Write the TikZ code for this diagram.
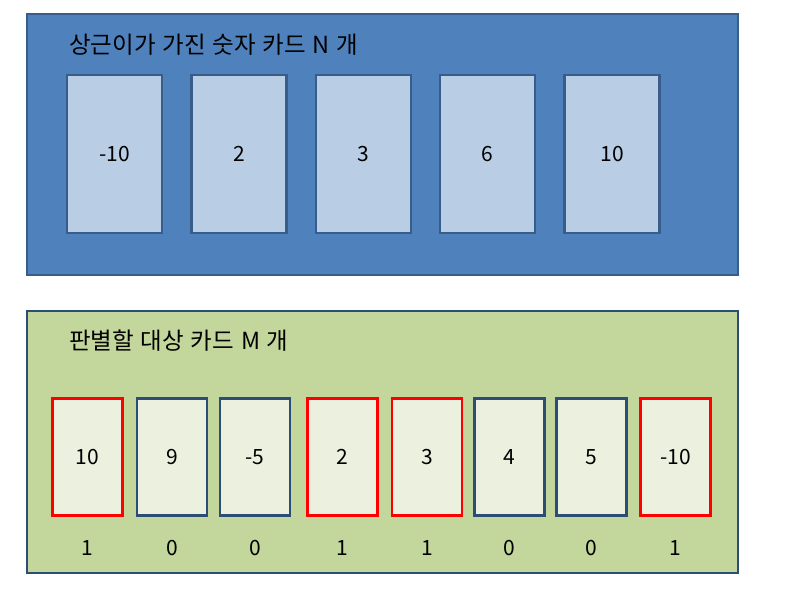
\documentclass[tikz,border=0pt]{standalone}
\usepackage{fontspec}
\setmainfont{Noto Sans CJK KR}
\newfontfamily\titlefont[WordSpace=1.3]{Noto Sans CJK KR}
\definecolor{topfill}{HTML}{4F81BD}
\definecolor{topline}{HTML}{385D8A}
\definecolor{cardfill}{HTML}{B9CDE5}
\definecolor{botfill}{HTML}{C3D69B}
\definecolor{botline}{HTML}{2C4D75}
\definecolor{bcardfill}{HTML}{EBF1DE}
\definecolor{redline}{HTML}{FF0000}
\tikzset{
  panel/.style={draw=#1, line width=2.3pt, anchor=north west, inner sep=0pt},
  topcard/.style={draw=topline, fill=cardfill, line width=2.3pt, minimum width=95pt, minimum height=158pt, inner sep=0pt, font=\fontsize{21}{23}\selectfont},
  botcard/.style={draw=botline, fill=bcardfill, line width=2.3pt, minimum width=70pt, minimum height=117pt, inner sep=0pt, font=\fontsize{21}{23}\selectfont},
  hitcard/.style={botcard, draw=redline, line width=2.6pt},
  title/.style={anchor=west, inner sep=0pt, font=\titlefont\fontsize{23.5}{25}\selectfont},
  flag/.style={inner sep=0pt, font=\fontsize{21}{23}\selectfont}
}
\begin{document}
\begin{tikzpicture}[x=1pt,y=-1pt]
\useasboundingbox (0,0) rectangle (800,597);
% top panel
\node[panel=topline, fill=topfill, minimum width=711pt, minimum height=261pt] (toppanel) at (25.5,13) {};
\node[title] (toptitle) at (69,45) {상근이가 가진 숫자 카드 N 개};
\foreach \x/\v [count=\i] in {114.5/-10, 239/2, 363.5/3, 487.5/6, 612/10} {
  \node[topcard] (t\i) at (\x,154) {\v};
}
% bottom panel
\node[panel=botline, fill=botfill, minimum width=711pt, minimum height=262pt] (botpanel) at (25.5,309.5) {};
\node[title] (bottitle) at (69,341) {판별할 대상 카드 M 개};
\foreach \x/\v/\s/\f [count=\i] in {87.5/10/hitcard/1, 172/9/botcard/0, 255/-5/botcard/0, 342.5/2/hitcard/1, 427/3/hitcard/1, 509.5/4/botcard/0, 591.5/5/botcard/0, 675.5/-10/hitcard/1} {
  \node[\s] (b\i) at (\x,457) {\v};
  \node[flag] (f\i) at (\x,548) {\f};
}
\end{tikzpicture}
\end{document}
